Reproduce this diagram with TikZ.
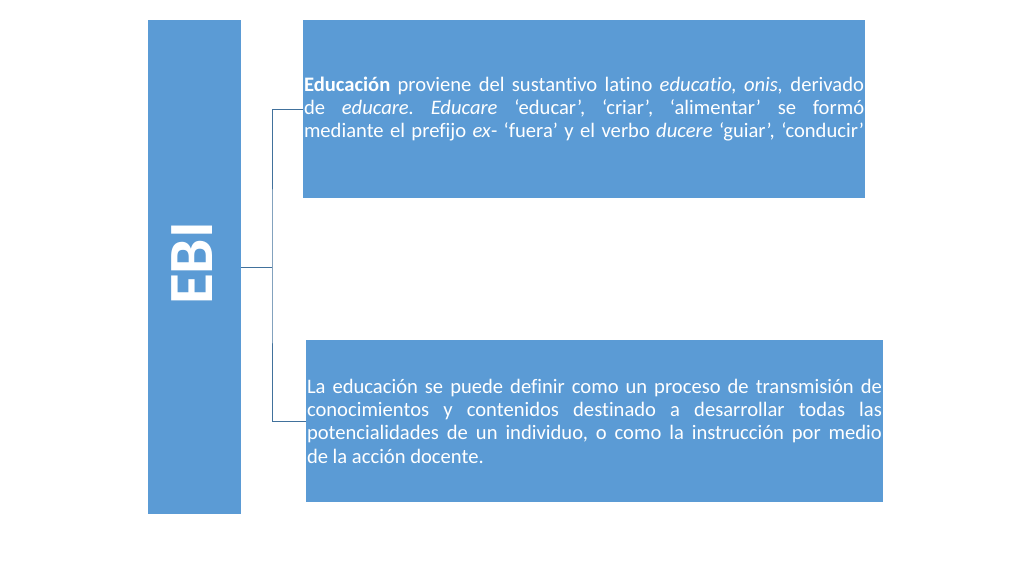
\documentclass[tikz,border=0pt]{standalone}
\usepackage{fontspec}
\setmainfont{Carlito}[Ligatures={TeX,CommonOff}]
\definecolor{boxblue}{HTML}{5B9BD5}
\definecolor{connblue}{HTML}{41719C}
\begin{document}
\frenchspacing
\begin{tikzpicture}[x=1pt,y=-1pt,
  bluebox/.style={fill=boxblue,draw=none,inner xsep=1pt,inner ysep=0pt,text=white,
    font=\fontsize{20.6}{23.3}\selectfont\frenchspacing},
  conn/.style={draw=connblue,line width=0.9pt}]
\useasboundingbox[fill=white] (0,0) rectangle (1024,576);
\node[fill=boxblue,minimum width=93pt,minimum height=494pt,inner sep=0pt] (bar) at (194.5,267) {};
\node[text=white,font=\fontsize{63}{63}\selectfont\bfseries,rotate=90,inner sep=0pt] (ebi) at (192,263.5) {EBI};
\node[bluebox,minimum width=562pt,minimum height=178pt] (top) at (584,109) {\vbox{\hsize=560pt\baselineskip=23.3pt
\hbox to\hsize{\textbf{Educación} proviene del sustantivo latino \textit{educatio, onis,} derivado}
\hbox to\hsize{de \textit{educare. Educare} ‘educar’, ‘criar’, ‘alimentar’ se formó}
\hbox to\hsize{mediante el prefijo \textit{ex}- ‘fuera’ y el verbo \textit{ducere} ‘guiar’, ‘conducir’}}};
\node[bluebox,minimum width=577pt,minimum height=162pt] (bot) at (594.5,421) {\vbox{\hsize=575pt\baselineskip=23.3pt
\hbox to\hsize{La educación se puede definir como un proceso de transmisión de}
\hbox to\hsize{conocimientos y contenidos destinado a desarrollar todas las}
\hbox to\hsize{potencialidades de un individuo, o como la instrucción por medio}
\hbox{de la acción docente.}}};
\coordinate (j) at (272,267);
\draw[conn] (bar.east) -- (j);
\draw[conn] (top.west) -| (j) |- (bot.west);
\end{tikzpicture}
\end{document}
